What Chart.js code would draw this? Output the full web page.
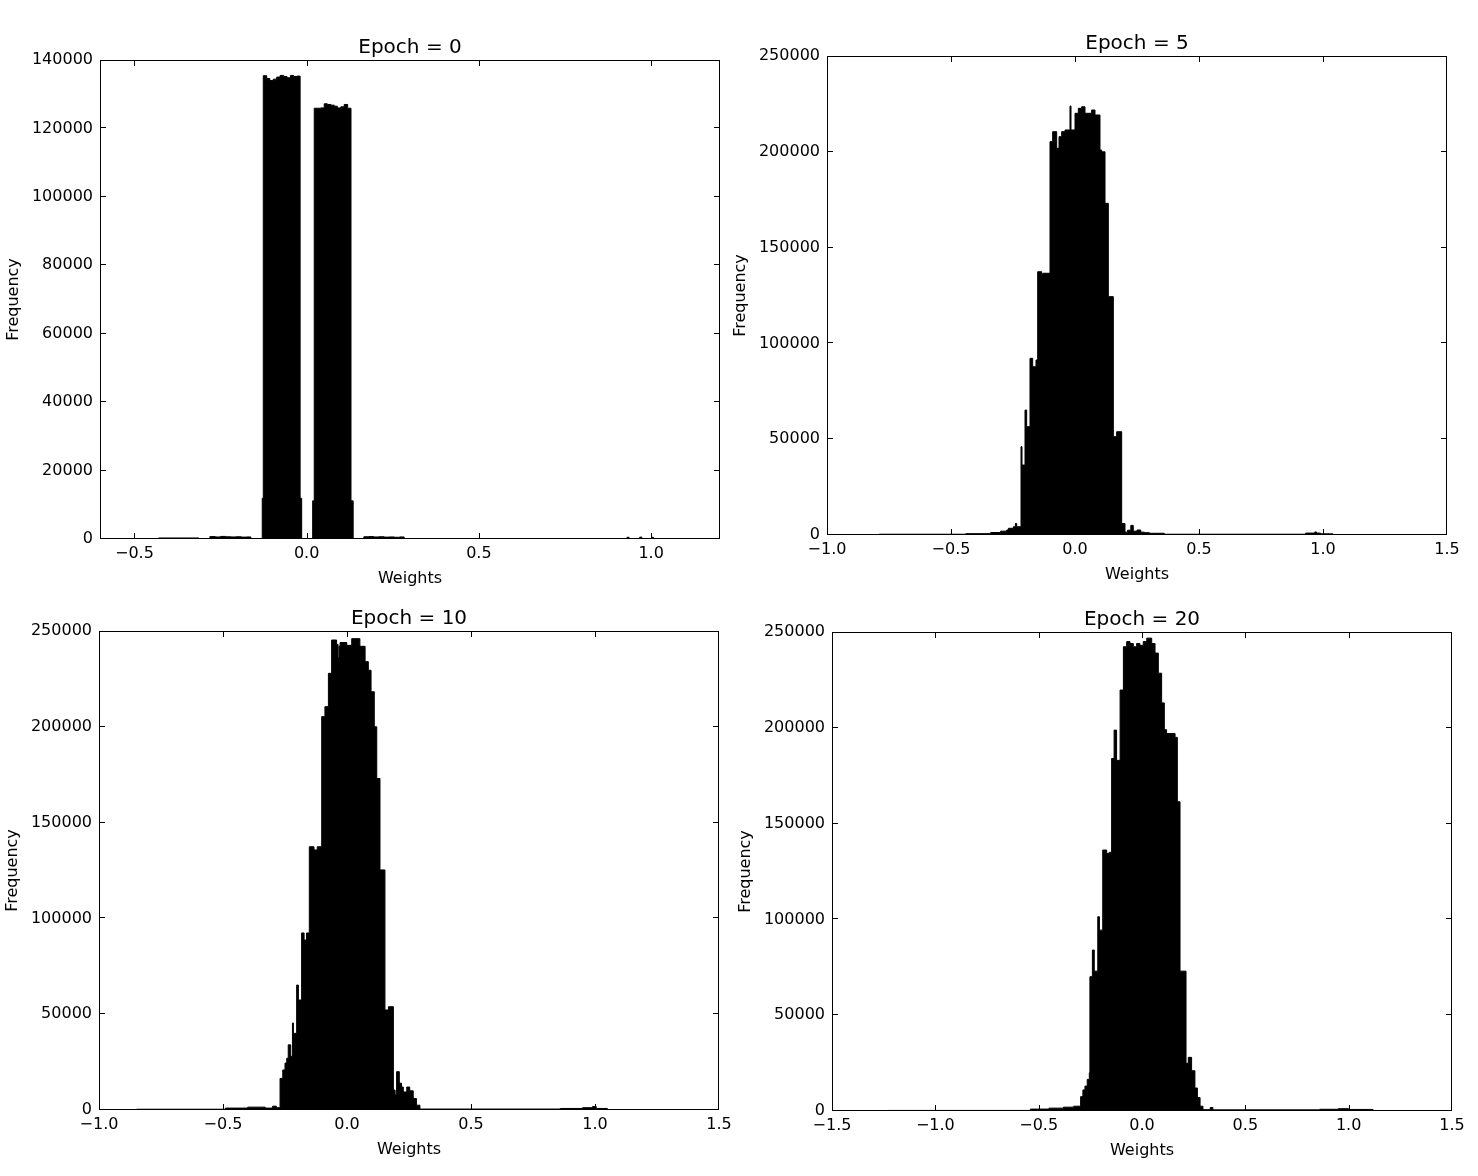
<!DOCTYPE html>
<html>
<head>
<meta charset="utf-8">
<script src="https://cdn.jsdelivr.net/npm/chart.js@4.4.1/dist/chart.umd.min.js"></script>
<style>
  html, body { margin: 0; padding: 0; background: #fff; }
  body { width: 1478px; height: 1176px; position: relative; overflow: hidden; }
  canvas { position: absolute; }
</style>
</head>
<body>
<canvas id="c0" width="744" height="599" style="left:0px;top:0px"></canvas>
<canvas id="c5" width="744" height="599" style="left:727px;top:-4px"></canvas>
<canvas id="c10" width="744" height="599" style="left:-1px;top:571px"></canvas>
<canvas id="c20" width="744" height="599" style="left:732px;top:572px"></canvas>
<script>
// histogram bins: left edges (last entry closes the final bin) and counts
const edges0 = [-0.43, -0.313, -0.281, -0.265, -0.25, -0.235, -0.22, -0.205, -0.19, -0.175, -0.162,
  -0.129, -0.126, -0.116, -0.107, -0.097, -0.087, -0.077, -0.067, -0.057, -0.047, -0.038, -0.028, -0.019, -0.0145,
  0.0174, 0.022, 0.032, 0.041, 0.051, 0.060, 0.070, 0.080, 0.089, 0.099, 0.109, 0.119, 0.1287, 0.135,
  0.166, 0.18, 0.195, 0.21, 0.225, 0.24, 0.255, 0.27, 0.283, 0.93, 0.936, 0.967, 0.973, 1.001, 1.007, 1.05];
const counts0 = [300, 0, 700, 600, 750, 650, 600, 650, 550, 600, 0,
  11900, 135400, 134600, 134000, 134400, 135000, 135500, 135200, 134800, 135500, 135200, 135300, 11900, 0,
  11150, 125900, 125900, 126000, 127200, 127000, 126800, 126500, 126000, 126300, 127000, 125900, 11150, 0,
  650, 700, 600, 650, 550, 600, 500, 600, 120, 500, 120, 550, 120, 500, 120];

const edges5 = [-0.79, -0.44, -0.34, -0.30, -0.2755, -0.2688, -0.2486, -0.2404, -0.235, -0.2177, -0.2137,
  -0.2016, -0.1949, -0.1815, -0.1707, -0.1573, -0.1505, -0.1344, -0.1304, -0.1008, -0.0901, -0.0739, -0.0645,
  -0.0538, -0.0403, -0.0202, -0.0161, 0.0, 0.0134, 0.0269, 0.0403, 0.0672, 0.0806, 0.1008, 0.1075, 0.121,
  0.1344, 0.1546, 0.168, 0.1882, 0.2016, 0.212, 0.225, 0.235, 0.25, 0.265, 0.28, 0.30, 0.36, 0.93, 0.967,
  0.974, 0.99, 1.04];
const counts5 = [400, 700, 1300, 2000, 2600, 3500, 4300, 6000, 4300, 46100, 36500,
  65200, 56500, 92200, 87800, 91300, 137400, 135700, 136600, 205300, 210500, 201800, 207900,
  210500, 211400, 223900, 211400, 220100, 222700, 223500, 220100, 221800, 219200, 200900, 200000, 173100,
  124400, 51300, 53900, 6000, 1500, 2500, 5000, 2000, 2600, 1500, 1200, 900, 400, 1000, 1600,
  1000, 600];

const edges10 = [-0.848, -0.49, -0.40, -0.33, -0.30, -0.285, -0.270, -0.259, -0.250, -0.243, -0.237,
  -0.227, -0.220, -0.216, -0.203, -0.196, -0.183, -0.173, -0.163, -0.152, -0.133, -0.120, -0.102, -0.089,
  -0.075, -0.062, -0.042, -0.036, -0.032, -0.028, -0.001, 0.019, 0.052, 0.073, 0.086, 0.097, 0.110, 0.120,
  0.133, 0.153, 0.167, 0.187, 0.194, 0.200, 0.211, 0.220, 0.227, 0.241, 0.253, 0.267, 0.280, 0.294, 0.86,
  0.95, 0.99, 1.005, 1.05];
const counts10 = [400, 1000, 1500, 1000, 2000, 1200, 16500, 20900, 24500, 27000, 34000,
  28000, 45400, 40000, 65200, 57400, 92400, 88700, 92400, 137400, 135700, 137400, 205300, 210500,
  227900, 245300, 243000, 236000, 242000, 244000, 242500, 246000, 242000, 234000, 229500, 218300, 200000, 173000,
  125300, 52200, 53900, 10400, 8000, 20000, 14000, 12000, 9400, 12000, 10000, 6000, 2500, 500, 800,
  1200, 1800, 800];

const edges20 = [-1.229, -0.54, -0.45, -0.38, -0.33, -0.297, -0.286, -0.276, -0.265, -0.255, -0.252,
  -0.240, -0.231, -0.214, -0.206, -0.190, -0.171, -0.158, -0.147, -0.135, -0.123, -0.106, -0.090, -0.074,
  -0.058, -0.042, -0.026, -0.010, 0.006, 0.023, 0.047, 0.063, 0.079, 0.095, 0.108, 0.119, 0.160, 0.171,
  0.184, 0.213, 0.224, 0.240, 0.256, 0.268, 0.281, 0.295, 0.33, 0.343, 0.86, 0.95, 1.0, 1.118];
const counts20 = [300, 1000, 1500, 2000, 2500, 7500, 11000, 13000, 16500, 20000, 70100,
  84000, 73000, 101400, 94400, 136200, 134500, 135000, 184000, 198800, 183000, 219700, 242300, 245000,
  244000, 242300, 244000, 243000, 245000, 246800, 244000, 239000, 228500, 213000, 199000, 197000, 195000, 161400,
  73000, 24900, 28000, 21000, 12000, 7000, 2500, 700, 1800, 600, 900, 1200, 800];

// tick labels
const xTicks0 = [-0.5, 0.0, 0.5, 1.0];
const xTicks5 = [-1.0, -0.5, 0.0, 0.5, 1.0, 1.5];
const xTicks10 = [-1.0, -0.5, 0.0, 0.5, 1.0, 1.5];
const xTicks20 = [-1.5, -1.0, -0.5, 0.0, 0.5, 1.0, 1.5];
const yTicks0 = [0, 20000, 40000, 60000, 80000, 100000, 120000, 140000];
const yTicks250 = [0, 50000, 100000, 150000, 200000, 250000];

Chart.defaults.font.family = "'DejaVu Sans', sans-serif";
Chart.defaults.color = '#000';

// matplotlib classic look: box frame with inward ticks on all four sides
const mplFrame = {
  id: 'mplFrame',
  afterDatasetsDraw(chart) {
    const { ctx, chartArea: a, scales: { x, y } } = chart;
    ctx.save();
    ctx.strokeStyle = '#000';
    ctx.lineWidth = 1;
    ctx.beginPath();
    x.ticks.forEach(t => {
      const px = Math.min(Math.round(x.getPixelForValue(t.value)) + 0.5, a.right - 0.5);
      ctx.moveTo(px, a.bottom); ctx.lineTo(px, a.bottom - 6);
      ctx.moveTo(px, a.top); ctx.lineTo(px, a.top + 6);
    });
    y.ticks.forEach(t => {
      const py = Math.max(Math.round(y.getPixelForValue(t.value)) - 0.5, a.top + 0.5);
      ctx.moveTo(a.left, py); ctx.lineTo(a.left + 6, py);
      ctx.moveTo(a.right, py); ctx.lineTo(a.right - 6, py);
    });
    ctx.stroke();
    ctx.strokeRect(a.left + 0.5, a.top + 0.5, a.right - a.left - 1, a.bottom - a.top - 1);
    ctx.restore();
  }
};

const fmtX = v => v.toFixed(1).replace('-', '\u2212');

function makeHist(id, title, edges, counts, xMin, xMax, xTicks, yMax, yTicks) {
  const points = edges.map((x, i) => ({ x: x, y: i < counts.length ? counts[i] : 0 }));
  return new Chart(document.getElementById(id), {
    type: 'line',
    data: {
      datasets: [{
        data: points,
        stepped: 'before',
        fill: 'origin',
        backgroundColor: '#000',
        borderColor: '#000',
        borderWidth: 1,
        pointRadius: 0,
        tension: 0
      }]
    },
    options: {
      responsive: false,
      animation: false,
      devicePixelRatio: 1,
      layout: { padding: { left: 0, right: 24, top: 0, bottom: 0 }, autoPadding: false },
      plugins: {
        legend: { display: false },
        tooltip: { enabled: false },
        title: {
          display: true,
          fullSize: false,
          text: title,
          font: { size: 20, weight: 'normal' },
          color: '#000',
          padding: { top: 36, bottom: 0 }
        }
      },
      scales: {
        x: {
          type: 'linear',
          min: xMin,
          max: xMax,
          afterBuildTicks: ax => { ax.ticks = xTicks.map(v => ({ value: v })); },
          afterFit: ax => { ax.height = 60; },
          grid: { display: false, drawTicks: false },
          border: { display: false },
          ticks: { padding: 5, maxRotation: 0, autoSkip: false, font: { size: 16 }, callback: v => fmtX(v) },
          title: { display: true, text: 'Weights', font: { size: 16 }, padding: { top: 0, bottom: 11 } }
        },
        y: {
          min: 0,
          max: yMax,
          afterBuildTicks: ax => { ax.ticks = yTicks.map(v => ({ value: v })); },
          afterFit: ax => { ax.width = 100; },
          grid: { display: false, drawTicks: false },
          border: { display: false },
          ticks: { padding: 7, autoSkip: false, font: { size: 16 }, callback: v => String(v) },
          title: { display: true, text: 'Frequency', font: { size: 16 }, padding: { top: 4, bottom: 0 } }
        }
      }
    },
    plugins: [mplFrame]
  });
}

makeHist('c0', 'Epoch = 0', edges0, counts0, -0.6, 1.2, xTicks0, 140000, yTicks0);
makeHist('c5', 'Epoch = 5', edges5, counts5, -1.0, 1.5, xTicks5, 250000, yTicks250);
makeHist('c10', 'Epoch = 10', edges10, counts10, -1.0, 1.5, xTicks10, 250000, yTicks250);
makeHist('c20', 'Epoch = 20', edges20, counts20, -1.5, 1.5, xTicks20, 250000, yTicks250);
</script>
</body>
</html>
